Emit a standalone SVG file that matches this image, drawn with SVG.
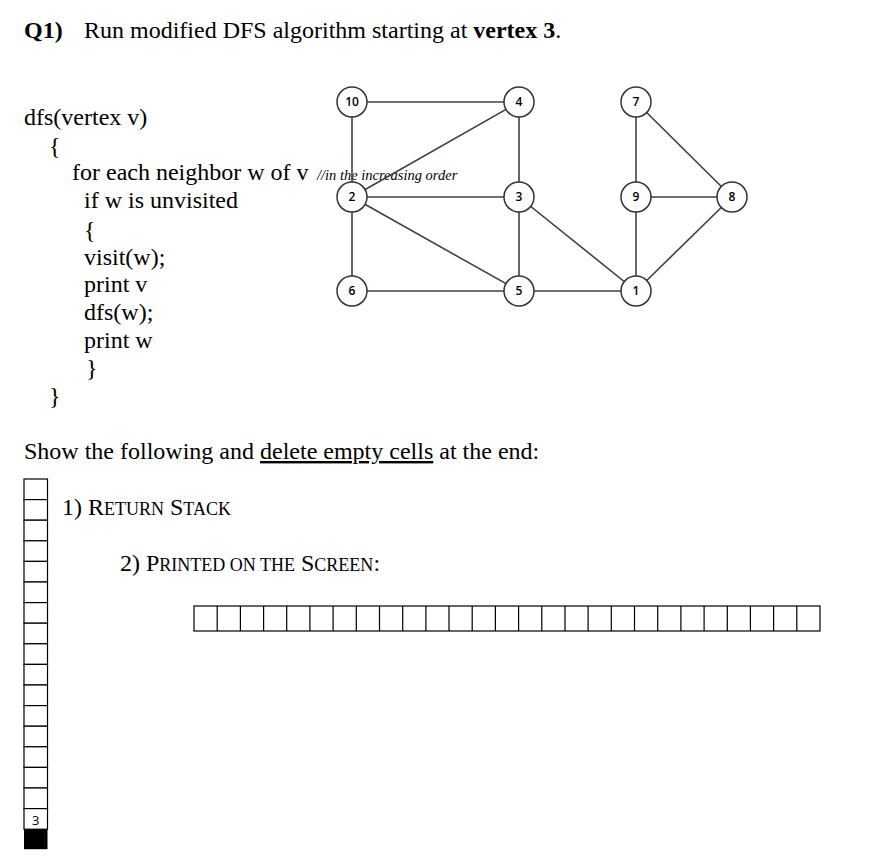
<svg xmlns="http://www.w3.org/2000/svg" width="885" height="859" viewBox="0 0 885 859">
<style>
.t{font-family:"Liberation Serif",serif;font-size:24px;fill:#000}
.n circle{fill:#fff;stroke:#333;stroke-width:1.5}
.n text{font-family:"Open Sans","DejaVu Sans",sans-serif;font-size:12px;font-weight:600;text-anchor:middle;fill:#000}
.e line{stroke:#404040;stroke-width:1.6}
.c{fill:#fff;stroke:#000;stroke-width:1.2}
</style>
<rect width="885" height="859" fill="#fff"/>
<text class="t" x="24" y="38"><tspan font-weight="bold">Q1)</tspan><tspan x="84">Run modified DFS algorithm starting at </tspan><tspan font-weight="bold">vertex 3</tspan>.</text>
<text class="t" x="24" y="125">dfs(vertex v)</text>
<text class="t" x="49" y="154">{</text>
<text class="t" x="72" y="180">for each neighbor w of v</text>
<text x="317" y="180" font-family="Liberation Serif,serif" font-style="italic" font-size="14.5">//in the increasing order</text>
<text class="t" x="84" y="208">if w is unvisited</text>
<text class="t" x="84" y="238">{</text>
<text class="t" x="84" y="265">visit(w);</text>
<text class="t" x="84" y="292">print v</text>
<text class="t" x="84" y="320">dfs(w);</text>
<text class="t" x="84" y="348">print w</text>
<text class="t" x="86" y="376">}</text>
<text class="t" x="49" y="404">}</text>
<text class="t" x="24" y="459">Show the following and <tspan text-decoration="underline">delete empty cells</tspan> at the end:</text>
<text class="t" x="62" y="515">1) R<tspan font-size="18">ETURN</tspan> S<tspan font-size="18">TACK</tspan></text>
<text class="t" x="120" y="571">2) P<tspan font-size="18">RINTED ON THE</tspan> S<tspan font-size="18">CREEN</tspan>:</text>
<g class="e" id="edges">
<line x1="352" y1="102" x2="519" y2="102"/><line x1="352" y1="102" x2="352" y2="197"/>
<line x1="519" y1="102" x2="352" y2="197"/><line x1="519" y1="102" x2="519" y2="197"/>
<line x1="352" y1="197" x2="519" y2="197"/><line x1="352" y1="197" x2="519" y2="291"/>
<line x1="352" y1="197" x2="352" y2="291"/><line x1="519" y1="197" x2="519" y2="291"/>
<line x1="519" y1="197" x2="636" y2="291"/><line x1="352" y1="291" x2="519" y2="291"/>
<line x1="519" y1="291" x2="636" y2="291"/><line x1="636" y1="102" x2="636" y2="197"/>
<line x1="636" y1="102" x2="732" y2="197"/><line x1="636" y1="197" x2="732" y2="197"/>
<line x1="636" y1="197" x2="636" y2="291"/><line x1="732" y1="197" x2="636" y2="291"/>
</g>
<g class="n" id="n10"><circle cx="352" cy="102" r="15"/><text x="352" y="106">10</text></g>
<g class="n" id="n4"><circle cx="519" cy="102" r="15"/><text x="519" y="106">4</text></g>
<g class="n" id="n7"><circle cx="636" cy="102" r="15"/><text x="636" y="106">7</text></g>
<g class="n" id="n2"><circle cx="352" cy="197" r="15"/><text x="352" y="201">2</text></g>
<g class="n" id="n3"><circle cx="519" cy="197" r="15"/><text x="519" y="201">3</text></g>
<g class="n" id="n9"><circle cx="636" cy="197" r="15"/><text x="636" y="201">9</text></g>
<g class="n" id="n8"><circle cx="732" cy="197" r="15"/><text x="732" y="201">8</text></g>
<g class="n" id="n6"><circle cx="352" cy="291" r="15"/><text x="352" y="295">6</text></g>
<g class="n" id="n5"><circle cx="519" cy="291" r="15"/><text x="519" y="295">5</text></g>
<g class="n" id="n1"><circle cx="636" cy="291" r="15"/><text x="636" y="295">1</text></g>
<g id="stack">
<rect class="c" x="24" y="479" width="23.5" height="20.6"/><rect class="c" x="24" y="499.6" width="23.5" height="20.6"/>
<rect class="c" x="24" y="520.2" width="23.5" height="20.6"/><rect class="c" x="24" y="540.8" width="23.5" height="20.6"/>
<rect class="c" x="24" y="561.4" width="23.5" height="20.6"/><rect class="c" x="24" y="582" width="23.5" height="20.6"/>
<rect class="c" x="24" y="602.6" width="23.5" height="20.6"/><rect class="c" x="24" y="623.2" width="23.5" height="20.6"/>
<rect class="c" x="24" y="643.8" width="23.5" height="20.6"/><rect class="c" x="24" y="664.4" width="23.5" height="20.6"/>
<rect class="c" x="24" y="685" width="23.5" height="20.6"/><rect class="c" x="24" y="705.6" width="23.5" height="20.6"/>
<rect class="c" x="24" y="726.2" width="23.5" height="20.6"/><rect class="c" x="24" y="746.8" width="23.5" height="20.6"/>
<rect class="c" x="24" y="767.4" width="23.5" height="20.6"/><rect class="c" x="24" y="788" width="23.5" height="20.6"/>
<rect class="c" x="24" y="808.6" width="23.5" height="20.6"/>
<text x="35.7" y="825" font-family="Open Sans,sans-serif" font-size="13" text-anchor="middle">3</text>
<rect x="24" y="829.2" width="23.5" height="20" fill="#000"/>
</g>
<g id="screen">
<rect class="c" x="194" y="606" width="626" height="25"/>
<path stroke="#000" stroke-width="1.2" d="M217.2 606v25M240.4 606v25M263.6 606v25M286.7 606v25M309.9 606v25M333.1 606v25M356.3 606v25M379.5 606v25M402.7 606v25M425.9 606v25M449 606v25M472.2 606v25M495.4 606v25M518.6 606v25M541.8 606v25M565 606v25M588.1 606v25M611.3 606v25M634.5 606v25M657.7 606v25M680.9 606v25M704.1 606v25M727.3 606v25M750.4 606v25M773.6 606v25M796.8 606v25"/>
</g>
</svg>
